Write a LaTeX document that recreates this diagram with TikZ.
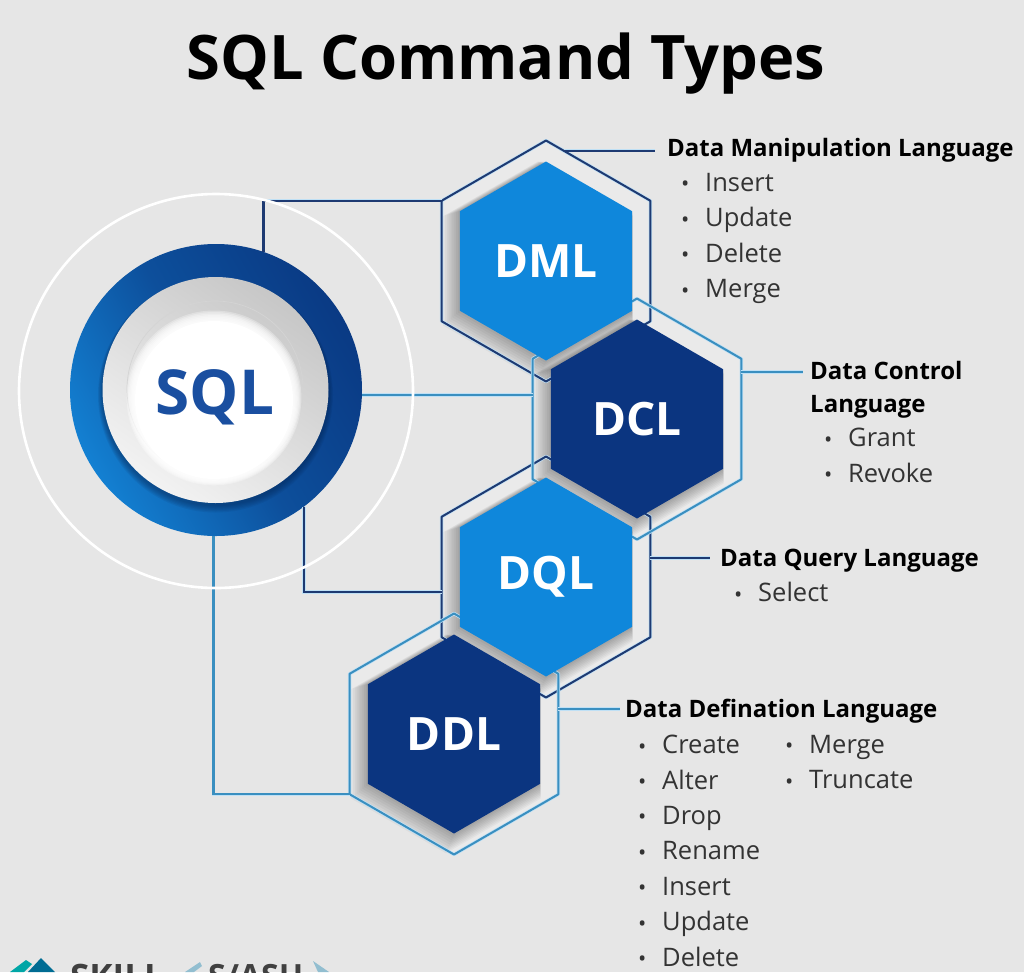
\documentclass[tikz,border=0pt]{standalone}
\usepackage{fontspec}
\setmainfont{Open Sans}
\usetikzlibrary{shapes.geometric, calc}
\definecolor{pagegray}{HTML}{E6E6E6}
\definecolor{panelgray}{HTML}{EAEAEA}
\definecolor{hexlight}{HTML}{0F87DB}
\definecolor{hexdark}{HTML}{0B3580}
\definecolor{linenavy}{HTML}{1E3A72}
\definecolor{lineblue}{HTML}{3A8FC0}
\definecolor{linehalo}{HTML}{BFE0F5}
\definecolor{ringlight}{HTML}{1380D2}
\definecolor{ringdark}{HTML}{0A3A84}
\definecolor{sqlblue}{HTML}{1A4FA0}
\definecolor{itemgray}{HTML}{333333}
\tikzstyle{hexinner} = [regular polygon, regular polygon sides=6, shape border rotate=30, minimum size=199pt, inner sep=0pt, outer sep=0pt, text=white, font=\fontsize{46}{46}\selectfont\bfseries]
\tikzstyle{hexshadow} = [regular polygon, regular polygon sides=6, shape border rotate=30, inner sep=0pt, fill=black, fill opacity=0.035]
\tikzstyle{hexpanel} = [regular polygon, regular polygon sides=6, shape border rotate=30, minimum size=241pt, inner sep=0pt, outer sep=0pt, fill=panelgray]
\tikzstyle{framenavy} = [regular polygon, regular polygon sides=6, shape border rotate=30, minimum size=241pt, inner sep=0pt, outer sep=0pt, preaction={draw=linehalo, line width=3.4pt}, draw=linenavy, line width=2pt, line join=round]
\tikzstyle{frameblue} = [regular polygon, regular polygon sides=6, shape border rotate=30, minimum size=241pt, inner sep=0pt, outer sep=0pt, preaction={draw=linehalo, line width=3.4pt}, draw=lineblue, line width=2pt, line join=round]
\tikzstyle{linkdark} = [line width=2.2pt, linenavy, preaction={draw=linehalo, line width=3.4pt}]
\tikzstyle{linkblue} = [line width=2.2pt, lineblue, preaction={draw=linehalo, line width=3.4pt}]
\tikzstyle{headtext} = [anchor=west, inner ysep=0pt, align=left, font=\fontsize{24}{33}\selectfont\bfseries]
\tikzstyle{itemtext} = [anchor=north west, inner sep=0pt, align=left, text=itemgray, font=\fontsize{25.5}{35.4}\selectfont]
\newcommand{\bitem}[1]{\makebox[24pt][l]{\raisebox{-0.5pt}{\fontsize{22}{22}\selectfont\textbullet}}#1}

\begin{document}
\begin{tikzpicture}[x=1pt, y=-1pt]

    \useasboundingbox (0, 0) rectangle (1024, 972);
    \fill [pagegray] (0, 0) rectangle (1024, 972);

    \node (title) at (506, 64) {\fontsize{61.4}{62}\selectfont\bfseries SQL Command Types};

    % Panels first, so that no panel hides the outline of another
    \node (dmlpanel) [hexpanel] at (546, 261) {};
    \node (dqlpanel) [hexpanel] at (546, 577) {};
    \node (dclpanel) [hexpanel] at (637, 419) {};
    \node (ddlpanel) [hexpanel] at (454, 734) {};

    % Soft shadows of the solid hexagons
    \foreach \hexx/\hexy in {546/261, 637/419, 546/577, 454/734} {
        \foreach \spread in {1, 2, ..., 9} {
            \node (shadow\hexx\spread) [hexshadow, minimum size=199pt+2.2pt*\spread] at (\hexx-0.9*\spread, \hexy+1.1*\spread) {};
        }
    }

    \node (dmlframe) [framenavy] at (546, 261) {};
    \node (dqlframe) [framenavy] at (546, 577) {};
    \node (dclframe) [frameblue] at (637, 419) {};
    \node (ddlframe) [frameblue] at (454, 734) {};

    \node (dml) [hexinner, fill=hexlight] at (546, 261) {DML};
    \node (dcl) [hexinner, fill=hexdark] at (637, 419) {DCL};
    \node (dql) [hexinner, fill=hexlight] at (546, 577) {DQL};
    \node (ddl) [hexinner, fill=hexdark] at (454, 734) {DDL};

    % SQL button
    \node (sqlring) [circle, minimum size=292pt, inner sep=0pt, outer sep=0pt, top color=ringdark, bottom color=ringlight, middle color=ringdark!70!ringlight, shading angle=-60] at (216, 390) {};
    \foreach \spread in {1, 2, ..., 6} {
        \node (dishshadow\spread) [circle, minimum size=226pt+\spread*1.5pt, inner sep=0pt, fill=ringdark!60!black, fill opacity=0.09] at (215.5, 392+\spread*0.5) {};
    }
    \node (sqldish) [circle, minimum size=226pt, inner sep=0pt, top color=black!22, bottom color=black!5, shading angle=-35] at (215.5, 390) {};
    \node (sqledge) [circle, minimum size=176pt, inner sep=0pt, draw=black!17, line width=0.7pt] at (215, 389) {};
    \foreach \spread in {7, 6, ..., 1} {
        \node (sqlglow\spread) [circle, minimum size=158pt+\spread*2.4pt, inner sep=0pt, fill=white, fill opacity=0.3] at (214, 400-\spread*0.3) {};
    }
    \node (sqlcore) [circle, minimum size=158pt, inner sep=0pt, fill=white] at (214, 400) {};
    \node (sqltext) [text=sqlblue, font=\fontsize{62}{62}\selectfont\bfseries] at (215, 397) {SQL};

    % Links from the button to the frames
    \draw [linkdark] (sqlring.71.6) |- (dmlframe.corner 2);
    \draw [linkblue] (sqlring.-2) -- (sqlring.-2 -| dclframe.west);
    \draw [linkdark] (sqlring.-53) |- ([yshift=-15pt]dqlframe.west);
    \draw [linkblue] (sqlring.-91.5) |- (ddlframe.corner 3);

    \draw [white, line width=2.6pt] (216, 391) circle [radius=197];

    % Headings and their lists
    \node (dmlhead) [headtext, inner xsep=12pt] at (655, 150) {Data Manipulation Language};
    \node (dmlitems) [itemtext] at (681, 173) {\bitem{Insert}\\\bitem{Update}\\\bitem{Delete}\\\bitem{Merge}};

    \node (dclhead) [headtext, inner xsep=7pt] at (803, 389.5) {Data Control\\Language};
    \node (dclitems) [itemtext] at (824, 428) {\bitem{Grant}\\\bitem{Revoke}};

    \node (dqlhead) [headtext, inner xsep=10pt] at (710, 561) {Data Query Language};
    \node (dqlitems) [itemtext] at (734, 582) {\bitem{Select}};

    \node (ddlhead) [headtext, inner xsep=5pt] at (620, 711) {Data Defination Language};
    \node (ddlitems) [itemtext] at (638, 735) {\bitem{Create}\\\bitem{Alter}\\\bitem{Drop}\\\bitem{Rename}\\\bitem{Insert}\\\bitem{Update}\\\bitem{Delete}};
    \node (ddlmore) [itemtext] at (785, 735) {\bitem{Merge}\\\bitem{Truncate}};

    \coordinate (dmltap) at ($(dmlframe.corner 1)!0.17!(dmlframe.corner 6)$);
    \draw [linkdark] (dmltap) -- (dmltap -| dmlhead.west);
    \coordinate (dcltap) at ([yshift=47pt]dclframe.east);
    \draw [linkblue] (dcltap) -- (dcltap -| dclhead.west);
    \draw [linkdark] ([yshift=3pt]dqlhead.west -| dqlframe.east) -- ([yshift=3pt]dqlhead.west);
    \draw [linkblue] ([yshift=2pt]ddlhead.west -| ddlframe.east) -- ([yshift=2pt]ddlhead.west);

    % Logo, cut off by the page edge
    \begin{scope}
        \clip (0, 0) rectangle (1024, 972);
        \fill [teal!70!cyan] (10, 972) -- (26, 960) -- (32, 964) -- (24, 972) -- cycle;
        \fill [teal!85!blue] (28, 972) -- (41, 958) -- (55, 972) -- cycle;
        \node (logoskill) [anchor=north west, inner sep=0pt, text=black!75, font=\fontsize{35}{35}\selectfont\bfseries] at (70, 964) {SKILL};
        \node (logoslash) [anchor=north west, inner sep=0pt, text=black!75, font=\fontsize{32}{32}\selectfont\bfseries] at (208, 964) {S/ASH};
        \fill [cyan!45!gray!70] (185, 972) -- (200, 962) -- (202, 966) -- (194, 972) -- cycle;
        \fill [cyan!45!gray!70] (313, 961) -- (329, 972) -- (318, 972) -- cycle;
    \end{scope}

\end{tikzpicture}
\end{document}
